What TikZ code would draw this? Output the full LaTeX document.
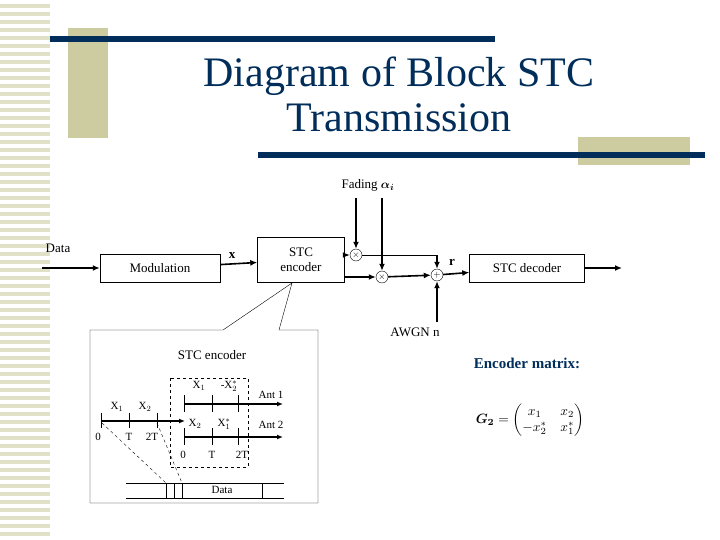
\documentclass[tikz,border=0pt]{standalone}
\usepackage{fontspec}
\setmainfont{Liberation Serif}
\usepackage{amsmath}
\usetikzlibrary{arrows.meta}
\definecolor{navy}{RGB}{0,45,90}
\definecolor{beige}{RGB}{204,204,160}
\definecolor{lbeige}{RGB}{225,225,200}
\begin{document}
\begin{tikzpicture}[x=1pt,y=-1pt,
 blk/.style={draw,minimum width=#1,minimum height=28,inner sep=1pt,font=\fontsize{13}{15}\selectfont,align=center},
 mult/.style={draw,circle,minimum size=12,inner sep=0,font=\small},
 arr/.style={line width=1.6pt,-{Latex[length=7,width=6]}},
 lbl/.style={font=\fontsize{13}{15}\selectfont},
 sm/.style={font=\fontsize{11}{12}\selectfont,inner sep=1pt}]
\useasboundingbox (0,0) rectangle (720,540);
% left stripes
\foreach \y in {4,12,...,540} \fill[lbeige] (0,\y) rectangle (50,\y+4);
% title decor
\fill[beige] (68,28) rectangle (108,138);
\fill[beige] (578,137) rectangle (690,165);
\fill[navy] (50,36) rectangle (495,42);
\fill[navy] (258,152) rectangle (705,158);
\node[navy,font=\fontsize{42}{45}\selectfont,align=center] (title) at (399,94) {Diagram of Block STC\\Transmission};
% main chain
\node[lbl] (data) at (58,248) {Data};
\coordinate (din) at (42,268);
\node[blk=120] (mod) at (160,268) {Modulation};
\node[blk=87,minimum height=45] (enc) at (301,260) {STC\\encoder};
\node[lbl,font=\fontsize{13}{15}\bfseries] (xl) at (232,256) {x};
\node[mult] (m1) at (356,255) {$\times$};
\node[mult] (m2) at (382,277) {$\times$};
\node[mult] (pl) at (437,275) {$+$};
\node[blk=115] (dec) at (527,268) {STC decoder};
\coordinate (dout) at (622,268);
\node[lbl] (fad) at (368,185) {Fading $\boldsymbol{\alpha_i}$};
\coordinate (f1) at (356,198);
\coordinate (f2) at (382,198);
\node[lbl] (awgn) at (415,332) {AWGN n};
\coordinate (aw) at (437,322);
\node[lbl,font=\fontsize{13}{15}\bfseries] (rl) at (452,262) {r};
\draw[arr] (din) -- (mod);
\draw[arr] (mod) -- (enc);
\draw[arr] (enc.east|-m1) -- (m1);
\draw[arr] (enc.east|-m2) -- (m2);
\draw[arr] (f1) -- (m1);
\draw[arr] (f2) -- (m2);
\draw (m1) -- (pl.north|-m1);
\draw[arr] (pl.north|-m1) -- (pl.north);
\draw[arr] (m2) -- (pl);
\draw[arr] (aw) -- (pl);
\draw[arr] (pl) -- (dec);
\draw[arr] (dec) -- (dout);
% callout
\coordinate (cp) at (292,283);
\draw (90,330) -- (223,330) -- (cp) -- (279,330) -- (318,330) -- (318,503) -- (90,503) -- cycle;
\node[lbl] (ce) at (212,355) {STC encoder};
\draw[dashed] (170,378) rectangle (248,467);
\draw[line width=1.4pt,-{Latex[length=6,width=5]}] (101,421) -- (185,421);
\foreach \x in {101,129,157} \draw (\x,413) -- (\x,428);
\node[sm] at (117,407) {X$_1$};
\node[sm] at (145,407) {X$_2$};
\node[sm] at (98,437) {0};
\node[sm] at (129,437) {T};
\node[sm] at (152,437) {2T};
\draw[line width=1.4pt,-{Latex[length=6,width=5]}] (184,404) -- (283,404);
\draw[line width=1.4pt,-{Latex[length=6,width=5]}] (184,437) -- (283,437);
\foreach \x in {184,212,238} {\draw (\x,395) -- (\x,412); \draw (\x,428) -- (\x,445);}
\node[sm] at (199,386) {X$_1$};
\node[sm] at (229,386) {-X$_2^*$};
\node[sm] at (271,395) {Ant 1};
\node[sm] at (195,424) {X$_2$};
\node[sm] at (224,424) {X$_1^*$};
\node[sm] at (271,425) {Ant 2};
\node[sm] at (183,455) {0};
\node[sm] at (212,455) {T};
\node[sm] at (242,455) {2T};
\draw (126,483) -- (284,483) (126,498) -- (284,498);
\foreach \x in {166,174,182,262} \draw (\x,483) -- (\x,498);
\node[sm] at (222,490) {Data};
\draw[dashed,thin] (102,423) -- (166,483);
\draw[dashed,thin] (157,423) -- (182,483);
% matrix
\node[navy,font=\fontsize{15}{17}\bfseries] (em) at (527,363) {Encoder matrix:};
\node[scale=1.35] (mat) at (530,420) {$\boldsymbol{G_2}=\begin{pmatrix} x_1 & x_2\\ -x_2^* & x_1^*\end{pmatrix}$};
\end{tikzpicture}
\end{document}
